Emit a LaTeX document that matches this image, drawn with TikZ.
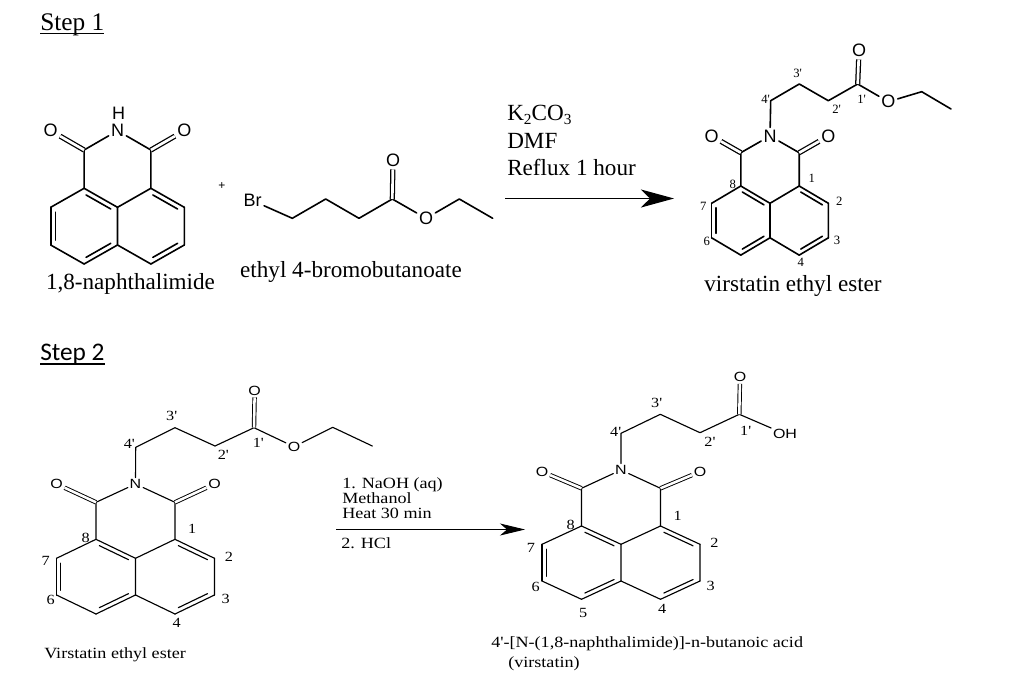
\documentclass[tikz,border=0pt]{standalone}
\usepackage{fontspec}
\setmainfont{Liberation Serif}
\newfontfamily\hetfont{Liberation Sans}
\newfontfamily\widehet[FakeStretch=1.2]{Liberation Sans}
\newfontfamily\wideserif[FakeStretch=1.16]{Liberation Serif}
\newfontfamily\plainserif{Liberation Serif}
\newfontfamily\stepfont{Carlito}
\usetikzlibrary{calc,arrows.meta}
% offset below baseline, rule thickness, text
\newcommand\stepul[3]{\setbox0=\hbox{#3}\copy0\llap{\rule[-#1]{\wd0}{#2}}}
\newcommand\subnum[1]{\raisebox{-.42ex}{\fontsize{11.5}{12}\selectfont #1}}
\newcommand\dblbond[4]{%
  \draw (#1) -- (#2);
  \draw ($(#1)!.13!(#2)!#4!#3:(#2)$) -- ($(#1)!.87!(#2)!#4!#3:(#2)$);
}
% prefix, cx, ytop, dx, dy, v, carbonyl length, y of N, y of O
\newcommand\naph[9]{%
  \coordinate (#1ct) at (#2,#3);
  \coordinate (#1cb) at (#2,{#3+#6});
  \coordinate (#1c8) at ({#2-#4},{#3-#5});
  \coordinate (#1c1) at ({#2+#4},{#3-#5});
  \coordinate (#1lu) at ({#2-2*#4},#3);
  \coordinate (#1ld) at ({#2-2*#4},{#3+#6});
  \coordinate (#1bl) at ({#2-#4},{#3+#6+#5});
  \coordinate (#1br) at ({#2+#4},{#3+#6+#5});
  \coordinate (#1rd) at ({#2+2*#4},{#3+#6});
  \coordinate (#1ru) at ({#2+2*#4},#3);
  \coordinate (#1kl) at ({#2-#4},{#3-#5-#7});
  \coordinate (#1kr) at ({#2+#4},{#3-#5-#7});
  \node[atom] (#1N) at (#2,#8) {N};
  \node[atom] (#1Ol) at ({#2-2*#4},#9) {O};
  \node[atom] (#1Or) at ({#2+2*#4},#9) {O};
  \dblbond{#1c8}{#1ct}{-90}{\bondgap}
  \dblbond{#1lu}{#1ld}{90}{\bondgap}
  \dblbond{#1bl}{#1cb}{90}{\bondgap}
  \dblbond{#1br}{#1rd}{90}{\bondgap}
  \dblbond{#1c1}{#1ru}{-90}{\bondgap}
  \draw (#1c8) -- (#1lu) (#1ld) -- (#1bl) (#1cb) -- (#1br) (#1rd) -- (#1ru)
        (#1ct) -- (#1cb) (#1ct) -- (#1c1)
        (#1c8) -- (#1kl) (#1c1) -- (#1kr)
        (#1kl) -- (#1N) (#1kr) -- (#1N);
  \draw[co] (#1kl) -- (#1Ol);
  \draw[co] (#1kr) -- (#1Or);
}
\tikzset{
  heavy/.style={line width=1.2pt,line join=round,line cap=round},
  light/.style={line width=.85pt,line join=round,line cap=round},
  co/.style={double=white,double distance=2pt,line width=.95pt,line cap=butt},
  co2/.style={double=white,double distance=1.9pt,line width=.7pt,line cap=butt},
  txt/.style={font=\fontsize{17.35}{19}\selectfont,inner sep=0pt},
  smalltxt/.style={font=\wideserif\fontsize{11.7}{13}\selectfont,inner sep=0pt},
  numa/.style={font=\plainserif\fontsize{9.5}{11}\selectfont,inner sep=0pt},
  numb/.style={font=\wideserif\fontsize{10.5}{12}\selectfont,inner sep=0pt},
}
\begin{document}
\begin{tikzpicture}[x=.75pt,y=-.75pt]
\useasboundingbox[fill=white] (0,0) rectangle (1024,689);

\node[anchor=base west,inner sep=0pt,font=\plainserif\fontsize{19}{22}\selectfont] (s1) at (40,30) {\stepul{3pt}{.9pt}{Step 1}};
\node[anchor=base west,inner sep=0pt,font=\stepfont\fontsize{19}{22}\selectfont] (s2) at (40,360) {\stepul{3.6pt}{1.2pt}{Step 2}};

% ---- Molecule 1
\begin{scope}[heavy,atom/.style={font=\hetfont\fontsize{13.5}{14}\selectfont,inner sep=1.2pt}]
\def\bondgap{3.6pt}
\naph{a}{117.5}{207.3}{33.4}{19}{37.7}{38.3}{130.7}{130.7}
\node[atom] (aH) at (118.5,113.5) {H};
% bromo ester
\node[atom] (eBr) at (252.7,200.7) {Br};
\coordinate (e1) at (292.3,218.3);
\coordinate (e2) at (325.7,199);
\coordinate (e3) at (359,218.3);
\coordinate (e4) at (392.3,199);
\node[atom] (eOd) at (393,160.7) {O};
\node[atom] (eO) at (426,218.3) {O};
\coordinate (e5) at (459.3,199);
\coordinate (e6) at (492.7,218.3);
\draw (eBr) -- (e1) -- (e2) -- (e3) -- (e4) -- (eO) -- (e5) -- (e6);
\draw[co] (e4) -- (eOd);
\node[inner sep=0pt,font=\hetfont\fontsize{9}{10}\selectfont] (plus) at (222,186) {+};

% Molecule 2
\def\bondgap{3.3pt}
\naph{b}{770}{203.3}{29.2}{17.3}{34.5}{33.3}{136}{136}
\coordinate (b4p) at (770.7,100.7);
\coordinate (b3p) at (799.3,84);
\coordinate (b2p) at (828.3,100.7);
\coordinate (b1p) at (857.7,84);
\node[atom] (bOd) at (859,50.7) {O};
\node[atom] (bO) at (888.3,101.7) {O};
\coordinate (b5p) at (921.7,91.7);
\coordinate (b6p) at (951,109);
\draw (bN) -- (b4p) -- (b3p) -- (b2p) -- (b1p) -- (bO) -- (b5p) -- (b6p);
\draw[co] (b1p) -- (bOd);
\end{scope}

\foreach \n/\x/\y/\t in {1/797.7/73.3/3',2/765.7/99/4',3/836.7/109/2',4/861.7/99/1',5/732.7/184/8,6/703.3/206.7/7,7/706.7/241.7/6,8/811.7/178.3/1,9/839.3/201.7/2,10/837/240/3,11/800.7/262.3/4}
  {\node[numa] (nb\n) at (\x,\y) {\t};}

% captions and conditions, step 1
\node[txt,anchor=base] (c1) at (130.5,289) {1,8-naphthalimide};
\node[txt,anchor=base] (c2) at (351,277) {ethyl 4-bromobutanoate};
\node[txt,anchor=base] (c3) at (793,291) {virstatin ethyl ester};
\node[txt,anchor=base west] (r1) at (507,120) {K\subnum{2}CO\subnum{3}};
\node[txt,anchor=base west] (r2) at (507,148) {DMF};
\node[txt,anchor=base west] (r3) at (507,175.5) {Reflux 1 hour};
\coordinate (a1s) at (505,198.5);
\coordinate (a1e) at (674,198.5);
\draw[line width=.85pt,-{Stealth[length=33*.75pt,width=18*.75pt,inset=9*.75pt]}] (a1s) -- (a1e);

% ---- Molecule 3
\begin{scope}[light,atom/.style={font=\widehet\fontsize{10}{11}\selectfont,inner sep=1pt}]
\tikzset{co/.style={co2}}
\def\bondgap{3.2pt}
\naph{c}{135.5}{558.3}{39.5}{19}{36.7}{37}{484}{484}
\coordinate (c4p) at (135.7,447.3);
\coordinate (c3p) at (175,427.7);
\coordinate (c2p) at (215,446);
\coordinate (c1p) at (254,427.7);
\node[atom] (cOd) at (254.7,390.7) {O};
\node[atom] (cO) at (294,446.7) {O};
\coordinate (c5p) at (332.7,427.3);
\coordinate (c6p) at (372.3,446);
\draw (cN) -- (c4p) -- (c3p) -- (c2p) -- (c1p) -- (cO) -- (c5p) -- (c6p);
\draw[co] (c1p) -- (cOd);

% Molecule 4
\naph{d}{621}{544.3}{39.5}{18.3}{36.7}{37.7}{470}{471.7}
\coordinate (d4p) at (621,433.3);
\coordinate (d3p) at (660.3,414.3);
\coordinate (d2p) at (700,432.7);
\coordinate (d1p) at (739.3,414.3);
\node[atom] (dOd) at (740,377.3) {O};
\node[atom] (dOH) at (785,434) {OH};
\draw (dN) -- (d4p) -- (d3p) -- (d2p) -- (d1p) -- (dOH);
\draw[co] (d1p) -- (dOd);
\end{scope}

\foreach \n/\x/\y/\t in {1/171.7/416/3',2/129.3/444/4',3/223.3/455/2',4/258.3/442.7/1',5/85.7/538.3/8,6/45.7/560.7/7,7/50.7/600/6,8/192.3/529.3/1,9/229/556.7/2,10/225.7/599/3,11/176.7/623.3/4}
  {\node[numb] (nc\n) at (\x,\y) {\t};}
\foreach \n/\x/\y/\t in {1/656.7/403.3/3',2/615.7/431.7/4',3/710/441.7/2',4/745.7/430.7/1',5/570.7/525/8,6/531/548.3/7,7/535.7/587.3/6,8/583.3/613.3/5,9/662.3/609.3/4,10/710.7/585.7/3,11/714.3/543.3/2,12/677.7/516/1}
  {\node[numb] (nd\n) at (\x,\y) {\t};}

% conditions and captions, step 2
\node[smalltxt,anchor=base west] (q1) at (342,488) {1. NaOH (aq)};
\node[smalltxt,anchor=base west] (q2) at (342,503) {Methanol};
\node[smalltxt,anchor=base west] (q3) at (342,518) {Heat 30 min};
\node[smalltxt,anchor=base west] (q4) at (341,548.5) {2. HCl};
\coordinate (a2s) at (336,529.5);
\coordinate (a2e) at (525,529.5);
\draw[line width=.65pt,-{Stealth[length=25*.75pt,width=12*.75pt,inset=7*.75pt]}] (a2s) -- (a2e);
\node[smalltxt,anchor=base west] (d1) at (44,658) {Virstatin ethyl ester};
\node[smalltxt,anchor=base west] (d2) at (491,647) {4'-[N-(1,8-naphthalimide)]-n-butanoic acid};
\node[smalltxt,anchor=base west] (d3) at (508,667) {(virstatin)};
\end{tikzpicture}
\end{document}
